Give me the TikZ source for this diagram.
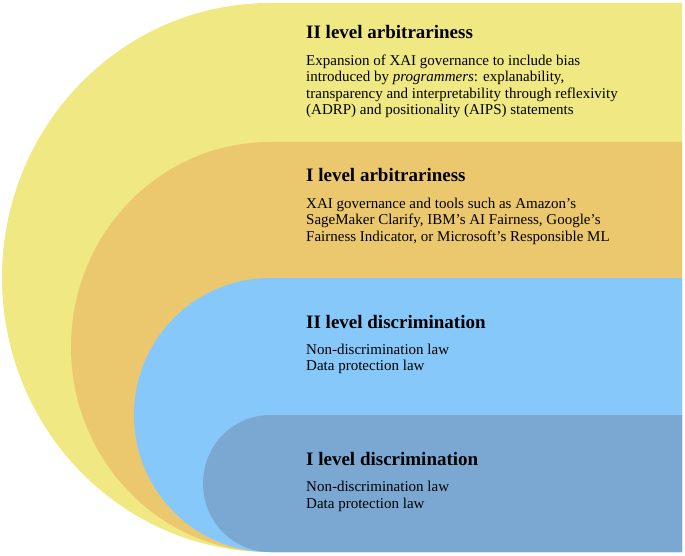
\documentclass[tikz,border=0pt]{standalone}
\usepackage{fontspec}
\setmainfont{Liberation Serif}
\definecolor{lvlyellow}{RGB}{240,232,130}
\definecolor{lvlorange}{RGB}{235,200,110}
\definecolor{lvlblue}{RGB}{135,200,250}
\definecolor{lvldark}{RGB}{123,168,210}
\tikzset{
  heading/.style={anchor=base west, inner sep=0pt, font={\fontsize{19}{22}\selectfont\bfseries}},
  bodytext/.style={anchor=base west, inner sep=0pt, align=left, font={\fontsize{15}{16.4}\selectfont}},
}
\begin{document}
\begin{tikzpicture}[x=1pt,y=1pt]
\useasboundingbox (0,0) rectangle (685,555);
% layers (y measured upward; bottom edge at y=3)
\fill[lvlyellow] (682,552) -- (270,552) arc[start angle=90, end angle=270, x radius=268, y radius=274.5] -- (682,3) -- cycle;
\fill[lvlorange] (682,413) -- (270,413) arc[start angle=90, end angle=270, x radius=199, y radius=205] -- (682,3) -- cycle;
\fill[lvlblue] (682,277) -- (270,277) arc[start angle=90, end angle=270, x radius=136, y radius=137] -- (682,3) -- cycle;
\fill[lvldark] (682,140) -- (270,140) arc[start angle=90, end angle=270, x radius=67, y radius=68.5] -- (682,3) -- cycle;
% texts (body nodes: base anchor is the baseline of the last line)
\node[heading] (h1) at (306,516.5) {II level arbitrariness};
\node[bodytext] (b1) at (306,440.3) {Expansion of XAI governance to include bias\\introduced by \textit{programmers}: explanability,\\transparency and interpretability through reflexivity\\(ADRP) and positionality (AIPS) statements};
\node[heading] (h2) at (306,373.3) {I level arbitrariness};
\node[bodytext] (b2) at (306,313.9) {XAI governance and tools such as Amazon’s\\SageMaker Clarify, IBM’s AI Fairness, Google’s\\Fairness Indicator, or Microsoft’s Responsible ML};
\node[heading] (h3) at (306,226.7) {II level discrimination};
\node[bodytext] (b3) at (306,184.1) {Non-discrimination law\\Data protection law};
\node[heading] (h4) at (306,90) {I level discrimination};
\node[bodytext] (b4) at (306,46.9) {Non-discrimination law\\Data protection law};
\end{tikzpicture}
\end{document}
